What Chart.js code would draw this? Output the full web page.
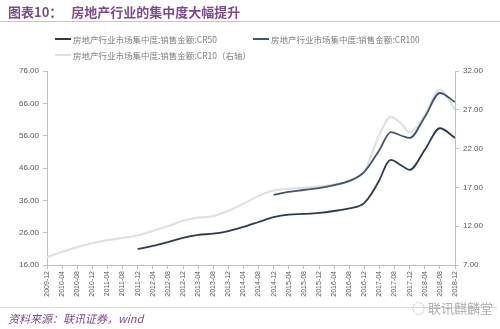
<!DOCTYPE html>
<html>
<head>
<meta charset="utf-8">
<script src="https://cdn.jsdelivr.net/npm/chart.js@4.4.1/dist/chart.umd.min.js"></script>
<style>
    body { margin: 0; background: #fff; width: 500px; height: 329px; overflow: hidden; position: relative; font-family: "Noto Sans CJK SC", sans-serif; }
    #wrap { position: absolute; left: 0; top: 0; width: 500px; height: 329px; }
    .title { position: absolute; left: 8px; top: 2px; font-size: 13px; font-weight: bold; color: #7d4a8e; white-space: nowrap; }
    .title-line { position: absolute; left: 0; top: 21px; width: 500px; height: 1px; background: #cbbfd2; }
    .legend { position: absolute; font-size: 8.5px; color: #808080; white-space: nowrap; display: flex; align-items: center; }
    .legend i { display: inline-block; width: 16px; height: 2px; margin-right: 2px; }
    .src-line { position: absolute; left: 0; top: 307px; width: 497px; height: 1px; background: #d9d9d9; }
    .source { position: absolute; left: 8px; top: 310px; font-size: 11px; font-style: italic; color: #7d4a8e; white-space: nowrap; }
    .mark { position: absolute; left: 412px; top: 298px; font-size: 13px; color: #b0b0b0; white-space: nowrap; }
</style>
</head>
<body>
<div id="wrap"><canvas id="chart" width="500" height="329"></canvas></div>
<div class="title">图表10：&nbsp;&nbsp;&nbsp;房地产行业的集中度大幅提升</div>
<div class="title-line"></div>
<div class="legend" style="left:55px; top:33px;"><i style="background:#2e3b4e"></i>房地产行业市场集中度:销售金额:CR50</div>
<div class="legend" style="left:253px; top:33px;"><i style="background:#44546a"></i>房地产行业市场集中度:销售金额:CR100</div>
<div class="legend" style="left:55px; top:49px;"><i style="background:#dde1e6"></i>房地产行业市场集中度:销售金额:CR10（右轴）</div>
<div class="src-line"></div>
<div class="source">资料来源：联讯证券，wind</div>
<div class="mark">◌ 联讯麒麟堂</div>

<script>
// x axis runs in months from 2009-12
const startYear = 2009, startMonth = 12;
const xMin = 0, xMax = 108;

// CR50 (left axis)
const cr50Dates = ['2011-12', '2012-04', '2012-08', '2012-12', '2013-04', '2013-08', '2013-12', '2014-04', '2014-08', '2014-12',
    '2015-04', '2015-08', '2015-12', '2016-04', '2016-08', '2016-12', '2017-04', '2017-06', '2017-07', '2017-10', '2017-12',
    '2018-04', '2018-08', '2018-12'];
const cr50Values = [20.9, 21.9, 23.1, 24.4, 25.3, 25.7, 26.5, 27.8, 29.3, 30.8,
    31.6, 31.8, 32.1, 32.7, 33.5, 35.2, 42.3, 47.5, 48.5, 46.6, 45.4,
    51.6, 58.3, 55.3];

// CR100 (left axis)
const cr100Dates = ['2014-12', '2015-04', '2015-08', '2015-12', '2016-04', '2016-08', '2016-12', '2017-04', '2017-07', '2017-10', '2017-12',
    '2018-04', '2018-08', '2018-12'];
const cr100Values = [37.7, 38.6, 39.2, 39.8, 40.7, 42.0, 44.8, 51.6, 57.1, 55.9, 55.3,
    61.8, 69.2, 66.4];

// CR10 (right axis)
const cr10Dates = ['2009-12', '2010-04', '2010-08', '2010-12', '2011-04', '2011-08', '2011-12', '2012-04', '2012-08', '2012-12',
    '2013-04', '2013-08', '2013-12', '2014-04', '2014-08', '2014-12', '2015-04', '2015-08', '2015-12', '2016-04', '2016-08',
    '2016-12', '2017-04', '2017-07', '2017-10', '2017-12', '2018-04', '2018-08', '2018-12'];
const cr10Values = [8.0, 8.7, 9.3, 9.8, 10.2, 10.5, 10.8, 11.4, 12.0, 12.7,
    13.1, 13.3, 14.0, 14.9, 15.9, 16.6, 16.8, 16.95, 17.1, 17.35, 17.8,
    19.1, 23.8, 26.1, 25.1, 24.1, 26.3, 29.6, 27.0];

const leftTicks = [16, 26, 36, 46, 56, 66, 76];
const rightTicks = [7, 12, 17, 22, 27, 32];

function monthIndex(d) {
    const [y, m] = d.split('-').map(Number);
    return (y - startYear) * 12 + (m - startMonth);
}
function monthLabel(i) {
    const total = startYear * 12 + (startMonth - 1) + i;
    const y = Math.floor(total / 12), m = total % 12 + 1;
    return y + '-' + String(m).padStart(2, '0');
}
function toPoints(dates, values) {
    return dates.map((d, i) => ({ x: monthIndex(d), y: values[i] }));
}

const tickFont = { family: 'Liberation Sans', size: 8 };
const axisGray = '#bfbfbf';

new Chart(document.getElementById('chart').getContext('2d'), {
    type: 'line',
    data: {
        datasets: [
            {
                label: 'CR10',
                data: toPoints(cr10Dates, cr10Values),
                yAxisID: 'y1',
                borderColor: '#dde1e6',
                borderWidth: 2.2,
                pointRadius: 0,
                cubicInterpolationMode: 'monotone',
                order: 3
            },
            {
                label: 'CR50',
                data: toPoints(cr50Dates, cr50Values),
                yAxisID: 'y',
                borderColor: '#2e3b4e',
                borderWidth: 1.8,
                pointRadius: 0,
                cubicInterpolationMode: 'monotone',
                order: 2
            },
            {
                label: 'CR100',
                data: toPoints(cr100Dates, cr100Values),
                yAxisID: 'y',
                borderColor: '#44546a',
                borderWidth: 1.8,
                pointRadius: 0,
                cubicInterpolationMode: 'monotone',
                order: 1
            }
        ]
    },
    options: {
        responsive: false,
        animation: false,
        layout: { padding: { top: 71, bottom: 0, left: 0, right: 0 } },
        plugins: { legend: { display: false }, tooltip: { enabled: false } },
        scales: {
            x: {
                type: 'linear',
                min: xMin,
                max: xMax,
                afterBuildTicks: s => { s.ticks = []; for (let v = xMin; v <= xMax; v += 4) s.ticks.push({ value: v }); },
                afterFit: s => { s.height = 64; },
                ticks: {
                    autoSkip: false,
                    minRotation: 90,
                    maxRotation: 90,
                    padding: 2,
                    color: '#595959',
                    font: { family: 'Liberation Sans', size: 7 },
                    callback: v => monthLabel(v)
                },
                grid: { drawOnChartArea: false, tickLength: 4, color: axisGray },
                border: { color: axisGray }
            },
            y: {
                position: 'left',
                min: 16,
                max: 76,
                afterBuildTicks: s => { s.ticks = leftTicks.map(v => ({ value: v })); },
                afterFit: s => { s.width = 47; },
                ticks: { color: '#595959', font: tickFont, padding: 4, callback: v => v.toFixed(2) },
                grid: { drawOnChartArea: false, tickLength: 4, color: axisGray },
                border: { color: axisGray }
            },
            y1: {
                position: 'right',
                min: 7,
                max: 32,
                afterBuildTicks: s => { s.ticks = rightTicks.map(v => ({ value: v })); },
                afterFit: s => { s.width = 45; },
                ticks: { color: '#595959', font: tickFont, padding: 4, callback: v => v.toFixed(2) },
                grid: { drawOnChartArea: false, tickLength: 4, color: axisGray },
                border: { color: axisGray }
            }
        }
    }
});
</script>
</body>
</html>
